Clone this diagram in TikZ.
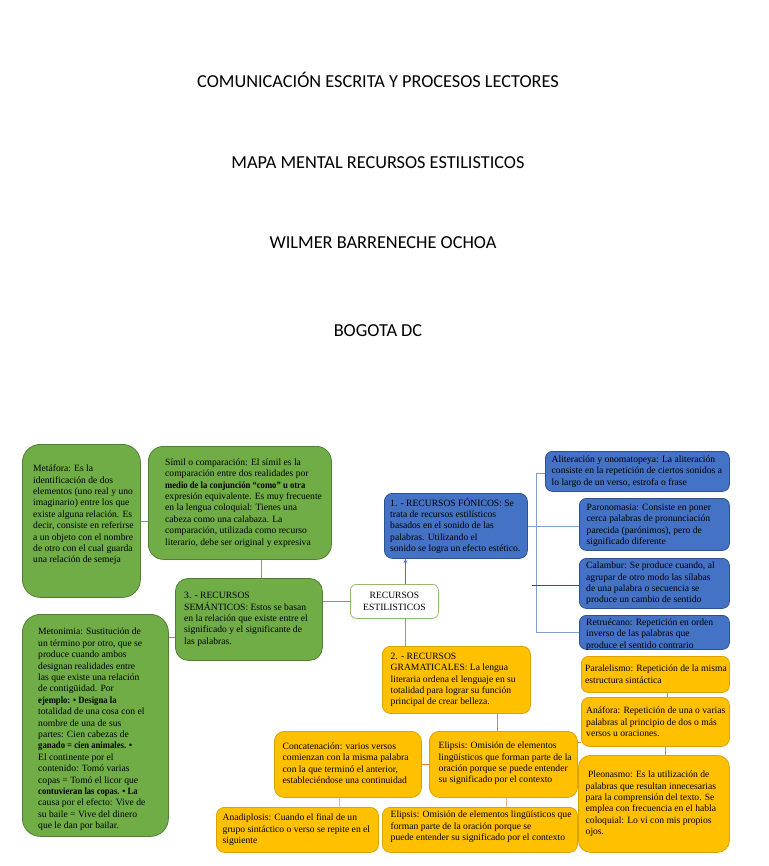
\documentclass[tikz,border=0pt]{standalone}
\usepackage{fontspec}
\usepackage{graphicx}
\setmainfont{Liberation Serif}
\newfontfamily\titlefont{Carlito}
\usetikzlibrary{arrows.meta,calc}
\definecolor{gfill}{HTML}{70AD47}
\definecolor{gdraw}{HTML}{507E32}
\definecolor{bfill}{HTML}{4472C4}
\definecolor{bdraw}{HTML}{2F528F}
\definecolor{yfill}{HTML}{FFC000}
\definecolor{ydraw}{HTML}{D9A300}
\definecolor{blin}{HTML}{7F9ED6}
\definecolor{olin}{HTML}{ED7D31}
\newcommand\bt[1]{\scalebox{0.9}[1]{\textbf{#1}}}
\begin{document}
\begin{tikzpicture}[x=1pt,y=-1pt,
  box/.style={anchor=north west, inner sep=0pt, line width=0.8pt},
  gbox/.style={box, fill=gfill, draw=gdraw},
  bbox/.style={box, fill=bfill, draw=bdraw},
  ybox/.style={box, fill=yfill, draw=ydraw},
  txt/.style={anchor=west, inner sep=0pt, align=left, font=\fontsize{9.6}{11.4}\selectfont},
  ttl/.style={anchor=base, inner sep=0pt, font=\titlefont\fontsize{18.3}{20}\selectfont},
  gl/.style={draw=gfill, line width=0.8pt},
  bl/.style={draw=blin, line width=0.8pt},
  ol/.style={draw=olin, line width=0.8pt}]
\fill[white] (0,0) rectangle (768,866);
\useasboundingbox (0,0) rectangle (768,866);

% titles
\node[ttl] (t1) at (378,88) {COMUNICACIÓN ESCRITA Y PROCESOS LECTORES};
\node[ttl] (t2) at (378,169) {MAPA MENTAL RECURSOS ESTILISTICOS};
\node[ttl] (t3) at (383,249) {WILMER BARRENECHE OCHOA};
\node[ttl] (t4) at (378,336) {BOGOTA DC};

% green boxes
\node[gbox, rounded corners=18pt, minimum width=118pt, minimum height=153pt] (metafora) at (22,444) {};
\node[txt, yshift=6pt] (metaforaT) at ([xshift=11pt]metafora.west) {Metáfora: Es la\\identificación de dos\\elementos (uno real y uno\\imaginario) entre los que\\existe alguna relación. Es\\decir, consiste en referirse\\a un objeto con el nombre\\de otro con el cual guarda\\una relación de semeja};

\node[gbox, rounded corners=15pt, minimum width=183pt, minimum height=113pt] (simil) at (148,446) {};
\node[txt] (similT) at ([xshift=17pt]simil.west) {Símil o comparación: El símil es la\\comparación entre dos realidades por\\\bt{medio de la conjunción “como” u otra}\\expresión equivalente. Es muy frecuente\\en la lengua coloquial: Tienes una\\cabeza como una calabaza. La\\comparación, utilizada como recurso\\literario, debe ser original y expresiva};

\node[gbox, rounded corners=13pt, minimum width=147pt, minimum height=82pt] (semanticos) at (175,578) {};
\node[txt] (semanticosT) at ([xshift=9pt]semanticos.west) {3. - RECURSOS\\SEMÁNTICOS: Estos se basan\\en la relación que existe entre el\\significado y el significante de\\las palabras.};

\node[gbox, rounded corners=18pt, minimum width=146pt, minimum height=222pt] (metonimia) at (22,614) {};
\node[txt, yshift=-4pt] (metonimiaT) at ([xshift=16pt]metonimia.west) {Metonimia: Sustitución de\\un término por otro, que se\\produce cuando ambos\\designan realidades entre\\las que existe una relación\\de contigüidad. Por\\\bt{ejemplo: • Designa la}\\totalidad de una cosa con el\\nombre de una de sus\\partes: Cien cabezas de\\\bt{ganado = cien animales. •}\\El continente por el\\contenido: Tomó varias\\copas = Tomó el licor que\\\bt{contuvieran las copas. • La}\\causa por el efecto: Vive de\\su baile = Vive del dinero\\que le dan por bailar.};

% center
\node[box, rounded corners=6pt, fill=white, draw=gfill!80, minimum width=88pt, minimum height=34pt] (center) at (350,584) {};
\node[txt, anchor=center, align=center] (centerT) at (center.center) {RECURSOS\\ESTILISTICOS};

% blue boxes
\node[bbox, rounded corners=8pt, minimum width=143pt, minimum height=65pt] (fonicos) at (384,493) {};
\node[txt] (fonicosT) at ([xshift=6pt]fonicos.west) {1. - RECURSOS FÓNICOS: Se\\trata de recursos estilísticos\\basados en el sonido de las\\palabras. Utilizando el\\sonido se logra un efecto estético.};

\node[bbox, rounded corners=7pt, minimum width=184pt, minimum height=40pt] (aliteracion) at (545,451) {};
\node[txt] (aliteracionT) at ([xshift=6.5pt]aliteracion.west) {Aliteración y onomatopeya: La aliteración\\consiste en la repetición de ciertos sonidos a\\lo largo de un verso, estrofa o frase};

\node[bbox, rounded corners=7pt, minimum width=150pt, minimum height=52pt] (paronomasia) at (579,498) {};
\node[txt, yshift=-1pt] (paronomasiaT) at ([xshift=7.5pt]paronomasia.west) {Paronomasia: Consiste en poner\\cerca palabras de pronunciación\\parecida (parónimos), pero de\\significado diferente};

\node[bbox, rounded corners=7pt, minimum width=150pt, minimum height=50pt] (calambur) at (579,558) {};
\node[txt] (calamburT) at ([xshift=7pt]calambur.west) {Calambur: Se produce cuando, al\\agrupar de otro modo las sílabas\\de una palabra o secuencia se\\produce un cambio de sentido};

\node[bbox, rounded corners=7pt, minimum width=150pt, minimum height=34pt] (retruecano) at (579,615) {};
\node[txt, yshift=-2pt] (retruecanoT) at ([xshift=7pt]retruecano.west) {Retruécano: Repetición en orden\\inverso de las palabras que\\produce el sentido contrario};

% yellow boxes
\node[ybox, rounded corners=8pt, minimum width=148pt, minimum height=67pt] (gramaticales) at (382,646) {};
\node[txt] (gramaticalesT) at ([xshift=8.5pt]gramaticales.west) {2. - RECURSOS\\GRAMATICALES: La lengua\\literaria ordena el lenguaje en su\\totalidad para lograr su función\\principal de crear belleza.};

\node[ybox, rounded corners=7pt, minimum width=148pt, minimum height=36pt] (paralelismo) at (581,656) {};
\node[txt] (paralelismoT) at ([xshift=4pt]paralelismo.west) {Paralelismo: Repetición de la misma\\estructura sintáctica};

\node[ybox, rounded corners=8pt, minimum width=148pt, minimum height=49pt] (anafora) at (581,697) {};
\node[txt] (anaforaT) at ([xshift=5pt]anafora.west) {Anáfora: Repetición de una o varias\\palabras al principio de dos o más\\versos u oraciones.};

\node[ybox, rounded corners=12pt, minimum width=151pt, minimum height=97pt] (pleonasmo) at (578,755) {};
\node[txt] (pleonasmoT) at ([xshift=7.5pt]pleonasmo.west) {\ Pleonasmo: Es la utilización de\\palabras que resultan innecesarias\\para la comprensión del texto. Se\\emplea con frecuencia en el habla\\coloquial: Lo vi con mis propios\\ojos.};

\node[ybox, rounded corners=10pt, minimum width=147pt, minimum height=66pt] (concat) at (274,731) {};
\node[txt, yshift=1pt] (concatT) at ([xshift=8.5pt]concat.west) {Concatenación: varios versos\\comienzan con la misma palabra\\con la que terminó el anterior,\\estableciéndose una continuidad};

\node[ybox, rounded corners=10pt, minimum width=148pt, minimum height=66pt] (elipsisM) at (429,731) {};
\node[txt, yshift=1pt] (elipsisMT) at ([xshift=9.5pt]elipsisM.west) {Elipsis: Omisión de elementos\\lingüísticos que forman parte de la\\oración porque se puede entender\\su significado por el contexto};

\node[ybox, rounded corners=8pt, minimum width=162pt, minimum height=45pt] (anadiplosis) at (216,807) {};
\node[txt] (anadiplosisT) at ([xshift=6.5pt]anadiplosis.west) {Anadiplosis: Cuando el final de un\\grupo sintáctico o verso se repite en el\\siguiente};

\node[ybox, rounded corners=8pt, minimum width=195pt, minimum height=45pt] (elipsisB) at (382,807) {};
\node[txt, yshift=3pt] (elipsisBT) at ([xshift=8.5pt]elipsisB.west) {Elipsis: Omisión de elementos lingüísticos que\\forman parte de la oración porque se\\puede entender su significado por el contexto};

% connectors (green)
\draw[gl] (metafora.east) -- (metafora.east -| simil.west);
\draw[gl] ([xshift=21pt]simil.south) -- ([xshift=21pt]simil.south |- semanticos.north);
\draw[gl] (center.west) -- (center.west -| semanticos.east);
\draw[gl] ([yshift=-18pt]semanticos.west) -- ([yshift=-18pt]semanticos.west -| metonimia.east);
% blue
\draw[bl, draw=bfill, -{Stealth[length=4pt,width=3.5pt]}] ([xshift=11pt]center.north) -- ([xshift=11pt]center.north |- fonicos.south);
\coordinate (bus) at (536,473);
\draw[bl] ([yshift=-2pt]aliteracion.west) -- ([yshift=-2pt]aliteracion.west -| bus) |- (retruecano.west);
\draw[bl] (fonicos.east) -- (fonicos.east -| paronomasia.west);
\coordinate (calL) at (532,585);
\draw[bl, draw=bdraw] (calL) -- (calL -| calambur.west);
% orange
\draw[ol] ([xshift=11pt]center.south) -- ([xshift=11pt]center.south |- gramaticales.north);
\draw[ol] ([xshift=-6pt]elipsisM.north) -- ([xshift=-6pt]elipsisM.north |- gramaticales.south);
\draw[ol] (concat.east) -- (elipsisM.west);
\draw[ol] ([yshift=22pt]elipsisM.east) -- ([yshift=22pt]elipsisM.east -| anafora.west);
\draw[ol] ([xshift=12pt]paralelismo.south) -- ([xshift=12pt]paralelismo.south |- anafora.north);
\draw[ol] ([xshift=10pt]anafora.south) -- ([xshift=10pt]anafora.south |- pleonasmo.north);
\draw[ol, draw=olin!60] ([xshift=-9pt]concat.south) -- ([xshift=-9pt]concat.south |- anadiplosis.north);
\draw[ol, draw=olin!60] ([xshift=3pt]elipsisM.south) -- ([xshift=3pt]elipsisM.south |- elipsisB.north);
\end{tikzpicture}
\end{document}
